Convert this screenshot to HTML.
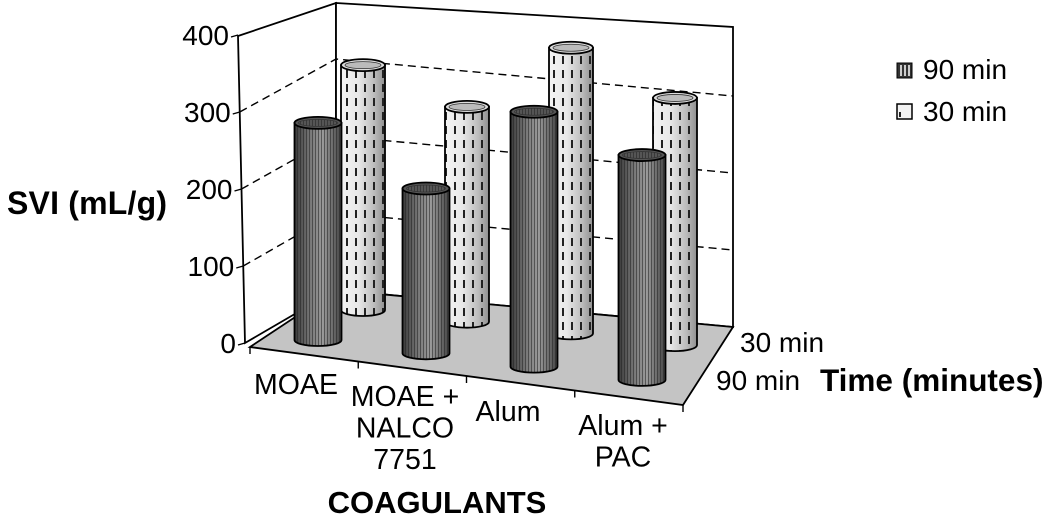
<!DOCTYPE html>
<html><head><meta charset="utf-8"><style>
body{margin:0;background:#fff;}
svg{display:block;font-family:"Liberation Sans",Arial,sans-serif;}
</style></head><body>
<svg id="chart" width="1057" height="531" viewBox="0 0 1057 531">
<defs>
<linearGradient id="gDark" x1="0" x2="1" y1="0" y2="0">
<stop offset="0" stop-color="#3a3a3a"/><stop offset="0.35" stop-color="#7a7a7a"/><stop offset="0.6" stop-color="#9a9a9a"/><stop offset="1" stop-color="#444"/>
</linearGradient>
<linearGradient id="gLight" x1="0" x2="1" y1="0" y2="0">
<stop offset="0" stop-color="#f4f4f4"/><stop offset="0.4" stop-color="#e8e8e8"/><stop offset="0.75" stop-color="#bdbdbd"/><stop offset="1" stop-color="#8f8f8f"/>
</linearGradient>
<pattern id="pV" width="3" height="10" patternUnits="userSpaceOnUse"><rect width="1" height="10" fill="#222" opacity="0.55"/></pattern>
<pattern id="pD" width="9" height="14" patternUnits="userSpaceOnUse"><rect x="4" y="0" width="2" height="8" fill="#222"/></pattern>
</defs>
<g id="walls">
<polygon points="238,36 336,3 336,290 245,343" fill="#fff" stroke="#000" stroke-width="1.8"/>
<polygon points="336,3 733,27 733,327 336,290" fill="#fff" stroke="#000" stroke-width="1.8"/>
<polygon points="250,347 336,290 733,327 683,405" fill="#c4c4c4" stroke="#000" stroke-width="1.8"/>
</g>
<g id="grid"></g>
<g id="bars"></g>
<g id="labels"></g>
<text x="7" y="214" font-size="32" font-weight="bold" textLength="160">SVI (mL/g)</text>
<text x="437" y="513" font-size="31" font-weight="bold" text-anchor="middle">COAGULANTS</text>
<text x="740" y="352" font-size="28">30 min</text>
<text x="716" y="390" font-size="28">90 min</text>
<text x="820" y="391" font-size="31.5" font-weight="bold">Time (minutes)</text>
<g>
<rect x="897" y="63" width="15" height="15" fill="#333" stroke="#000"/>
<rect x="900" y="65" width="2" height="11" fill="#ccc"/><rect x="904" y="65" width="2" height="11" fill="#ccc"/><rect x="908" y="65" width="2" height="11" fill="#ccc"/>
<text x="923" y="79" font-size="28">90 min</text>
<rect x="897" y="104" width="15" height="15" fill="#f2f2f2" stroke="#000" stroke-width="1.5"/>
<rect x="899" y="112" width="2" height="5" fill="#222"/>
<text x="923" y="121" font-size="28">30 min</text>
</g>
</svg>
<script>
const categories = ["MOAE", "MOAE + NALCO 7751", "Alum", "Alum + PAC"];
const values90 = [282, 214, 331, 292];
const values30 = [318, 279, 371, 321];
const yTicks = [0, 100, 200, 300, 400];

const NS = "http://www.w3.org/2000/svg";
const PX = 0.77;
function y0Front(i){return 340 + 13.3*i;}
function y0Back(i){return 310 + 11.7*i;}
function xFront(i){return 318 + 108*i;}
function xBack(i){return 363 + 104*i;}
function h(v){return v*PX;}
function axisY(v){return 343 - v*PX;}
function axisX(v){return 245 - v/400*7;}
function mk(tag, attrs, parent){const e=document.createElementNS(NS,tag);for(const k in attrs)e.setAttribute(k,attrs[k]);parent.appendChild(e);return e;}

const grid=document.getElementById('grid');
yTicks.forEach(function(t){
  const y=axisY(t), x=axisX(t);
  const yb=y-53;
  if(t>0 && t<400){
    const l=mk('polyline',{points:`${x},${y} 336,${yb} 733,${yb+37}`,fill:'none',stroke:'#000','stroke-width':1.4,'stroke-dasharray':'8,5'},grid);
    
    
  }
  const tk=mk('line',{x1:x-7,y1:y+2,x2:x,y2:y,stroke:'#000','stroke-width':1.4},grid);
  
  
  const tx=mk('text',{x:x-9,y:y+10,'font-size':28,'text-anchor':'end'},grid);
  tx.textContent=t;
  
  
});
[0,1,2,3,4].forEach(function(k){
  const x=250+k*108.25, y=347+k*14.5;
  const t=mk('line',{x1:x,y1:y,x2:x,y2:y+7,stroke:'#000','stroke-width':1.4},grid);
  
  
});

const bars=document.getElementById('bars');
function cyl(cx, base, v, dark, name){
  const g=mk('g',{},bars);
  
  
  const w=dark?47:44, rx=w/2, ry=6, top=base-h(v);
  const d=`M${cx-rx},${top} L${cx-rx},${base} A${rx},${ry} 0 0 0 ${cx+rx},${base} L${cx+rx},${top} Z`;
  mk('path',{d:d,fill:dark?'url(#gDark)':'url(#gLight)'},g);
  mk('path',{d:d,fill:dark?'url(#pV)':'url(#pD)'},g);
  mk('path',{d:d,fill:'none',stroke:'#000','stroke-width':1.8},g);
  mk('ellipse',{cx:cx,cy:top,rx:rx,ry:ry,fill:dark?'#555':'#ddd',stroke:'#000','stroke-width':1.8},g);
  mk('ellipse',{cx:cx,cy:top,rx:rx-4,ry:ry-2.5,fill:dark?'url(#pV)':'#bbb',stroke:'#333','stroke-width':0.8},g);
}
values30.forEach(function(v,i){cyl(xBack(i), y0Back(i), v, false, 'bar-30min-'+i);});
values90.forEach(function(v,i){cyl(xFront(i), y0Front(i), v, true, 'bar-90min-'+i);});

const labels=document.getElementById('labels');
const labelPos=[[296,394],[405,406],[508,421],[623,435]];
categories.forEach(function(c,i){
  let lines;
  if(i===1) lines=["MOAE +","NALCO","7751"];
  else if(i===3) lines=["Alum +","PAC"];
  else lines=[c];
  const t=mk('text',{x:labelPos[i][0],y:labelPos[i][1],'font-size':28.5,'text-anchor':'middle'},labels);
  
  
  lines.forEach(function(L,j){const s=mk('tspan',{x:labelPos[i][0],dy:j?31.5:0},t);s.textContent=L;});
});
</script>
</body></html>
